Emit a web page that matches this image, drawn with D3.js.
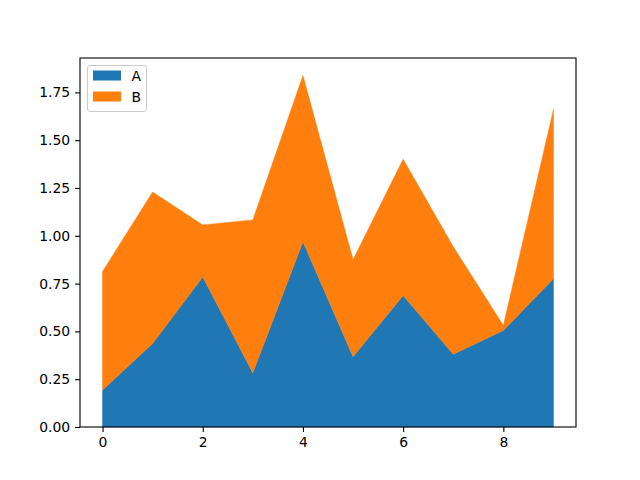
<!DOCTYPE html>
<html>
<head>
<meta charset="utf-8">
<script src="https://cdn.jsdelivr.net/npm/d3@7"></script>
<style>
  body { margin: 0; background: #fff; }
  text { font-family: "DejaVu Sans", sans-serif; }
</style>
</head>
<body>
<div id="chart"></div>
<script>
var xValues = [0, 1, 2, 3, 4, 5, 6, 7, 8, 9];
var seriesA = [0.193, 0.437, 0.785, 0.283, 0.969, 0.368, 0.688, 0.380, 0.505, 0.776];
var seriesB = [0.620, 0.792, 0.272, 0.800, 0.869, 0.507, 0.713, 0.563, 0.026, 0.885];
var seriesNames = ["A", "B"];
var colors = ["#1f77b4", "#ff7f0e"];
var xTicks = [0, 2, 4, 6, 8];
var yTicks = [0, 0.25, 0.5, 0.75, 1.0, 1.25, 1.5, 1.75];

var width = 640, height = 480;
var margin = {left: 80, right: 64, top: 58, bottom: 53};
var fontSize = "13.9px";

var rows = xValues.map(function (x, i) {
    return {x: x, A: seriesA[i], B: seriesB[i]};
});
var stacked = d3.stack().keys(seriesNames)(rows);

var maxTotal = d3.max(rows, function (d) { return d.A + d.B; });
var xSpan = 9;
var x = d3.scaleLinear()
    .domain([-0.05 * xSpan, 9 + 0.05 * xSpan])
    .range([margin.left, width - margin.right]);
var y = d3.scaleLinear()
    .domain([0, maxTotal * 1.05])
    .range([height - margin.bottom, margin.top]);

var svg = d3.select("#chart").append("svg")
    .attr("width", width)
    .attr("height", height);

var area = d3.area()
    .x(function (d) { return x(d.data.x); })
    .y0(function (d) { return y(d[0]); })
    .y1(function (d) { return y(d[1]); });

svg.selectAll("path.layer")
    .data(stacked)
    .enter().append("path")
    .attr("class", "layer")
    .attr("d", area)
    .attr("fill", function (d, i) { return colors[i]; })
    .attr("stroke", function (d, i) { return colors[i]; })
    .attr("stroke-width", 0.5);

var xAxis = svg.append("g")
    .attr("transform", "translate(0," + (height - margin.bottom) + ")")
    .call(d3.axisBottom(x).tickValues(xTicks).tickSize(4.9).tickPadding(4.9).tickFormat(d3.format("d")));
var yAxis = svg.append("g")
    .attr("transform", "translate(" + margin.left + ",0)")
    .call(d3.axisLeft(y).tickValues(yTicks).tickSize(4.9).tickPadding(4.9).tickFormat(d3.format(".2f")));

[xAxis, yAxis].forEach(function (g) {
    g.select(".domain").remove();
    g.selectAll("line").attr("stroke", "#000").attr("stroke-width", 1.1);
    g.selectAll("text").attr("font-size", fontSize).attr("fill", "#000")
        .style("font-family", "DejaVu Sans, sans-serif");
});

svg.append("rect")
    .attr("x", margin.left)
    .attr("y", margin.top)
    .attr("width", width - margin.left - margin.right)
    .attr("height", height - margin.top - margin.bottom)
    .attr("fill", "none")
    .attr("stroke", "#000")
    .attr("stroke-width", 1.1);

// legend
var legend = svg.append("g").attr("transform", "translate(87.5,65.5)");
legend.append("rect")
    .attr("width", 59)
    .attr("height", 46)
    .attr("rx", 2.5)
    .attr("fill", "#fff")
    .attr("fill-opacity", 0.8)
    .attr("stroke", "#ccc")
    .attr("stroke-width", 1);
seriesNames.forEach(function (name, i) {
    legend.append("rect")
        .attr("x", 5.5)
        .attr("y", 5 + i * 21)
        .attr("width", 28)
        .attr("height", 10)
        .attr("fill", colors[i]);
    legend.append("text")
        .attr("x", 44)
        .attr("y", 15 + i * 21)
        .attr("font-size", fontSize)
        .text(name);
});
</script>
</body>
</html>
